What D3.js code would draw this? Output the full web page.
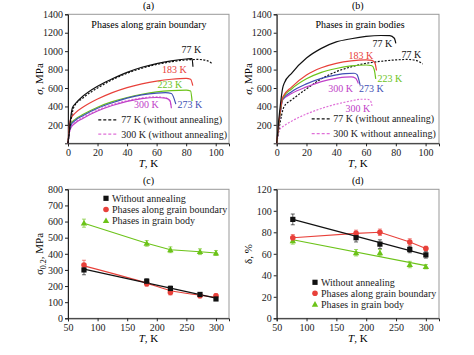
<!DOCTYPE html>
<html><head><meta charset="utf-8">
<script src="https://cdn.jsdelivr.net/npm/d3@7"></script>
<style>body{margin:0;background:#fff}svg{display:block}text{font-family:"Liberation Serif","Times New Roman",serif;}</style>
</head><body>
<svg id="c" width="474" height="355"></svg>
<script>
// ---------- DATA ----------
// Panel (a): stress-strain, phases along grain boundary  [x, sigma]
const a77 = [[0,0],[1,150],[2,300],[3,385],[5,430],[10,510],[20,620],[30,700],[40,770],[50,825],[60,865],[70,895],[80,915],[84,920],[84.6,830]];
const a77na = [[0,0],[2,250],[4,395],[10,490],[20,600],[30,690],[40,760],[50,815],[60,855],[70,885],[80,905],[88,910],[94,898],[98,860]];
const a183 = [[0,0],[1,200],[2,270],[5,330],[10,390],[20,480],[30,550],[40,605],[50,645],[60,675],[70,695],[80,705],[83,695],[84.5,625]];
const a223 = [[0,0],[1,150],[2,210],[5,262],[10,312],[20,392],[30,452],[40,497],[50,532],[60,558],[70,572],[80,577],[83,567],[84,458]];
const a273 = [[0,0],[1,140],[2,200],[5,250],[10,300],[20,380],[30,440],[40,490],[50,525],[60,545],[66,550],[70,540],[73,425]];
const a300 = [[0,0],[1,120],[2,170],[5,220],[10,270],[20,350],[30,410],[40,455],[50,485],[60,497],[66,490],[69,465],[70,380]];
const a300na = [[0,0],[1,125],[2,180],[5,230],[10,280],[20,360],[30,420],[40,462],[50,492],[58,505],[64,500],[68,480],[70,400]];
// Panel (b): phases in grain bodies
const b77 = [[0,0],[2,350],[4,600],[5,650],[10,760],[20,925],[30,1030],[40,1100],[50,1135],[60,1160],[70,1170],[76,1168],[79,1140],[80,1085]];
const b77na = [[0,0],[2,200],[5,400],[10,470],[20,590],[30,700],[40,777],[50,830],[60,868],[70,890],[80,905],[88,910],[94,898],[98,860]];
const b183 = [[0,0],[2,300],[4,500],[10,610],[20,742],[30,820],[40,868],[50,895],[60,905],[64,900],[66,870],[67,790]];
const b223 = [[0,0],[2,290],[4,490],[10,590],[20,700],[30,770],[40,812],[50,840],[60,850],[64,842],[65.5,800],[66.5,700]];
const b273 = [[0,0],[2,280],[4,480],[10,560],[20,645],[30,705],[40,742],[46,757],[52,760],[54,745],[55,700],[56,635]];
const b300 = [[0,0],[2,270],[4,470],[10,540],[20,612],[30,670],[40,705],[46,718],[50,720],[53,705],[54.8,650]];
const b300na = [[0,0],[2,150],[5,190],[10,240],[20,318],[30,378],[40,425],[50,460],[56,478],[61,478],[63,460],[64,405]];

// Panels (c),(d): temperatures
const temps = [77,183,223,273,300];
const sigNoAnn = [300,230,185,148,120];
const sigBoundary = [330,215,160,140,140];
const sigBody = [590,465,425,413,405];
const errSigNoAnn = [30,15,15,12,10];
const errSigBoundary = [30,15,15,12,12];
const errSigBody = [25,18,18,18,16];
const fitSigNoAnn = [[77,305],[300,125]];
const fitSigBoundary = [[77,325],[183,218],[223,172],[273,143],[300,130]];

const delNoAnn = [92,75,69,64,59];
const delBoundary = [75,79,80,71,65];
const delBody = [72,61,61,50,48];
const errDelNoAnn = [5,4,4,3,3];
const errDelBoundary = [3,3,3,3,2];
const errDelBody = [3,3,3,3,2];
const fitDelNoAnn = [[77,92],[300,59]];
const fitDelBody = [[77,73],[300,49]];

const xTicksStrain = [0,20,40,60,80,100];
const yTicksStress = [200,400,600,800,1000,1200,1400];
const xTicksT = [50,100,150,200,250,300];
const yTicksSig = [0,100,200,300,400,500,600,700,800];
const yTicksDel = [0,20,40,60,80,100,120];

// ---------- STYLE ----------
const C = {black:"#111", red:"#e8403a", green:"#6cc319", blue:"#3f4fb4", mag:"#c040c8", pink:"#e070d8"};
const svg = d3.select("#c");
const FS = 10;
const fmt = d3.format("d");

function panel(o){
  const x = d3.scaleLinear().domain(o.xd).range([o.l,o.r]);
  const y = d3.scaleLinear().domain(o.yd).range([o.b,o.t]);
  const g = svg.append("g");
  g.append("rect").attr("x",o.l).attr("y",o.t).attr("width",o.r-o.l).attr("height",o.b-o.t)
    .attr("fill","none").attr("stroke","#999").attr("stroke-width",1);
  const xa = g.append("g").attr("transform",`translate(0,${o.b})`)
    .call(d3.axisBottom(x).tickValues(o.xt).tickFormat(fmt).tickSizeOuter(0).tickSize(3).tickPadding(3));
  const ya = g.append("g").attr("transform",`translate(${o.l},0)`)
    .call(d3.axisLeft(y).tickValues(o.yt).tickFormat(fmt).tickSizeOuter(0).tickSize(3).tickPadding(2));
  [xa,ya].forEach(a=>{a.selectAll("text").attr("font-size",FS).attr("font-family","Liberation Serif").attr("fill","#222");
    a.select(".domain").attr("stroke","#222"); a.selectAll("line").attr("stroke","#222");});
  g.append("text").attr("x",(o.l+o.r)/2).attr("y",o.t-5.5).attr("text-anchor","middle").attr("font-size",FS).text(o.title);
  const xl = g.append("text").attr("x",(o.l+o.r)/2).attr("y",o.b+24).attr("text-anchor","middle").attr("font-size",11);
  xl.append("tspan").attr("font-style","italic").text("T");
  xl.append("tspan").text(", K");
  return {x,y,g};
}

const line = (p)=>d3.line().x(d=>p.x(d[0])).y(d=>p.y(d[1])).curve(d3.curveMonotoneX);
function curve(p,data,col,dash){
  p.g.append("path").attr("d",line(p)(data)).attr("fill","none").attr("stroke",col)
    .attr("stroke-width",1.2).attr("stroke-dasharray",dash||null);
}
function label(p,xv,yv,txt,col,anchor){
  p.g.append("text").attr("x",p.x(xv)).attr("y",p.y(yv)).attr("fill",col).attr("font-size",FS)
    .attr("text-anchor",anchor||"middle").text(txt);
}
function legendLine(p,xv1,xv2,yv,col,txt){
  p.g.append("line").attr("x1",p.x(xv1)).attr("x2",p.x(xv2)).attr("y1",p.y(yv)).attr("y2",p.y(yv))
    .attr("stroke",col).attr("stroke-width",1.2).attr("stroke-dasharray","3,2");
  p.g.append("text").attr("x",p.x(xv2)+3).attr("y",p.y(yv)+3.5).attr("font-size",FS).attr("fill","#222").text(txt);
}
function ylab(xp,yc,parts){
  const t = svg.append("text").attr("transform",`translate(${xp},${yc}) rotate(-90)`).attr("text-anchor","middle").attr("font-size",11);
  parts.forEach(pt=>{const s=t.append("tspan").text(pt.t); if(pt.i) s.attr("font-style","italic");
    if(pt.sub) s.attr("dy",2.5).attr("font-size",8); if(pt.after) s.attr("dy",-2.5);});
}

// ----- (a)
const pa = panel({l:68,r:229,t:14.3,b:143.3,xd:[0,109],yd:[0,1400],xt:xTicksStrain,yt:yTicksStress,title:"(a)"});
pa.g.append("text").attr("x",149).attr("y",28).attr("text-anchor","middle").attr("font-size",FS).text("Phases along grain boundary");
curve(pa,a300na,C.pink,"2,1.5");
curve(pa,a300,C.mag);
curve(pa,a223,C.green);
curve(pa,a273,C.blue);
curve(pa,a183,C.red);
curve(pa,a77na,C.black,"2,1.5");
curve(pa,a77,C.black);
label(pa,83.5,985,"77 K",C.black);
label(pa,72,765,"183 K",C.red);
label(pa,69,595,"223 K",C.green);
label(pa,82.5,385,"273 K",C.blue);
label(pa,53,380,"300 K",C.mag);
legendLine(pa,20.5,34,255,C.black,"77 K (without annealing)");
legendLine(pa,20.5,34,100,C.pink,"300 K (without annealing)");
ylab(43,79,[{t:"σ",i:true},{t:", MPa"}]);

// ----- (b)
const pb = panel({l:276.7,r:439,t:14.3,b:143.3,xd:[0,109],yd:[0,1400],xt:xTicksStrain,yt:yTicksStress,title:"(b)"});
pb.g.append("text").attr("x",360).attr("y",28).attr("text-anchor","middle").attr("font-size",FS).text("Phases in grain bodies");
curve(pb,b300na,C.pink,"2,1.5");
curve(pb,b77na,C.black,"2,1.5");
curve(pb,b300,C.mag);
curve(pb,b273,C.blue);
curve(pb,b223,C.green);
curve(pb,b183,C.red);
curve(pb,b77,C.black);
label(pb,71,1045,"77 K",C.black);
label(pb,90.5,925,"77 K",C.black);
label(pb,56.5,910,"183 K",C.red);
label(pb,76,665,"223 K",C.green);
label(pb,43,560,"300 K",C.mag);
label(pb,63.5,560,"273 K",C.blue);
label(pb,54.5,345,"300 K",C.mag);
legendLine(pb,23.5,36,265,C.black,"77 K (without annealing)");
legendLine(pb,23.5,36,105,C.pink,"300 K without annealing)");
ylab(252,79,[{t:"σ",i:true},{t:", MPa"}]);

// ----- markers
function sq(g,cx,cy,col){g.append("rect").attr("x",cx-2.6).attr("y",cy-2.6).attr("width",5.2).attr("height",5.2).attr("fill",col);}
function ci(g,cx,cy,col){g.append("circle").attr("cx",cx).attr("cy",cy).attr("r",2.8).attr("fill",col);}
function tr(g,cx,cy,col){g.append("path").attr("d",`M${cx},${cy-3.3}L${cx+3.2},${cy+2.4}L${cx-3.2},${cy+2.4}Z`).attr("fill",col);}
function series(p,vals,errs,col,mk,connect){
  const pts = temps.map((t,i)=>[t,vals[i]]);
  if(connect) p.g.append("path").attr("d",d3.line().x(d=>p.x(d[0])).y(d=>p.y(d[1]))(pts)).attr("fill","none").attr("stroke",col).attr("stroke-width",1.1);
  pts.forEach((d,i)=>{
    const cx=p.x(d[0]), y1=p.y(d[1]-errs[i]), y2=p.y(d[1]+errs[i]);
    p.g.append("line").attr("x1",cx).attr("x2",cx).attr("y1",y1).attr("y2",y2).attr("stroke",col).attr("stroke-width",0.8).attr("opacity",0.8);
    [y1,y2].forEach(yy=>p.g.append("line").attr("x1",cx-2).attr("x2",cx+2).attr("y1",yy).attr("y2",yy).attr("stroke",col).attr("stroke-width",0.8).attr("opacity",0.8));
  });
  return pts;
}
function fit(p,data,col){
  p.g.append("path").attr("d",d3.line().x(d=>p.x(d[0])).y(d=>p.y(d[1])).curve(d3.curveMonotoneX)(data)).attr("fill","none").attr("stroke",col).attr("stroke-width",1.1);
}
function marks(p,pts,col,mk){pts.forEach(d=>mk(p.g,p.x(d[0]),p.y(d[1]),col));}
function legendMk(p,xp,yp,mk,col,txt){mk(p.g,xp,yp,col); p.g.append("text").attr("x",xp+6).attr("y",yp+3.5).attr("font-size",FS).attr("fill","#222").text(txt);}

// ----- (c)
const pc = panel({l:68,r:229,t:189.3,b:318.3,xd:[50,322],yd:[0,800],xt:xTicksT,yt:yTicksSig,title:"(c)"});
const cB = series(pc,sigBody,errSigBody,C.green,tr,true);
const cR = series(pc,sigBoundary,errSigBoundary,C.red,ci,false);
const cK = series(pc,sigNoAnn,errSigNoAnn,C.black,sq,false);
fit(pc,fitSigBoundary,C.red);
fit(pc,fitSigNoAnn,C.black);
marks(pc,cB,C.green,tr); marks(pc,cR,C.red,ci); marks(pc,cK,C.black,sq);
legendMk(pc,106,198.3,sq,C.black,"Without annealing");
legendMk(pc,106,209.5,ci,C.red,"Phases along grain boundary");
legendMk(pc,106,220.7,tr,C.green,"Phases in grain body");
ylab(43,254,[{t:"σ"},{t:"0.2",sub:true},{t:", MPa",after:true}]);

// ----- (d)
const pd = panel({l:276.7,r:439,t:189.3,b:318.3,xd:[50,322],yd:[0,120],xt:xTicksT,yt:yTicksDel,title:"(d)"});
const dB = series(pd,delBody,errDelBody,C.green,tr,false);
const dR = series(pd,delBoundary,errDelBoundary,C.red,ci,true);
const dK = series(pd,delNoAnn,errDelNoAnn,C.black,sq,false);
fit(pd,fitDelBody,C.green);
fit(pd,fitDelNoAnn,C.black);
marks(pd,dB,C.green,tr); marks(pd,dR,C.red,ci); marks(pd,dK,C.black,sq);
legendMk(pd,315,282.3,sq,C.black,"Without annealing");
legendMk(pd,315,293.3,ci,C.red,"Phases along grain boundary");
legendMk(pd,315,304.3,tr,C.green,"Phases in grain body");
ylab(252,254,[{t:"δ"},{t:", %"}]);
</script>
</body></html>
